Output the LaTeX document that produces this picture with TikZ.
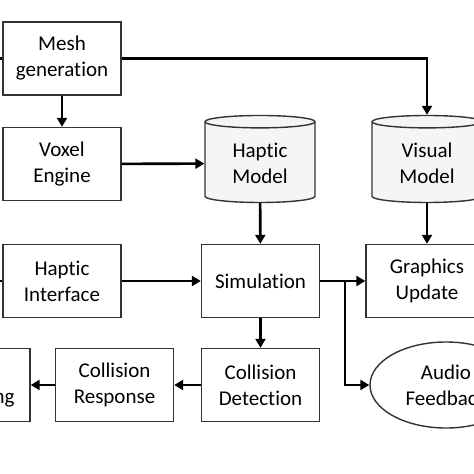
\documentclass[tikz,border=0pt]{standalone}
\usepackage{fontspec}
\setmainfont{Carlito}[Ligatures=NoCommon]
\usepackage{tikz}
\usetikzlibrary{shapes.geometric, arrows.meta}
\tikzstyle{block} = [rectangle, minimum width=118pt, minimum height=73pt, text centered, align=center, draw=black!80, line width=1.4pt]
\tikzstyle{store} = [cylinder, shape border rotate=90, aspect=0.2, minimum width=110pt, minimum height=87pt, text centered, align=center, draw=black!80, line width=1.4pt, fill=gray!8]
\tikzstyle{sound} = [ellipse, minimum width=152pt, minimum height=86pt, text centered, align=center, draw=black!80, line width=1.4pt]
\tikzstyle{flow} = [line width=2.6pt, -{Triangle[length=9pt,width=10pt]}]
\tikzstyle{wire} = [line width=2.6pt]

\begin{document}
\begin{tikzpicture}[x=1pt, y=-1pt, font=\fontsize{21}{26}\selectfont]
\useasboundingbox (0,0) rectangle (474,474);
\clip (0,0) rectangle (474,474);
% boxes
\node (mesh) [block] at (62,58.5) {Mesh\\generation};
\node (voxel) [block] at (62,164) {Voxel\\Engine};
\node (hint) [block] at (62,281) {Haptic\\Interface};
\node (sim) [block] at (260.5,281) {Simulation};
\node (cd) [block] at (260.5,385) {Collision\\Detection};
\node (cr) [block] at (114.5,385) {Collision\\Response};
\node (rend) [block] at (-29,385) {Haptic\\Rendering};
\node (gu) [block, minimum width=122pt] at (427,281) {Graphics\\Update};
% models
\node (hm) [store] at (260,163.5) {Haptic\\Model};
\node (vm) [store] at (427,163.5) {Visual\\Model};
\node (af) [sound] at (446,385) {Audio\\Feedback};
% connectors
\coordinate (west1) at (-20,58.5);
\coordinate (west2) at (-20,281);
\coordinate (fork) at (345,281);
\draw[wire] (mesh.west) -- (west1);
\draw[wire] (hint.west) -- (west2);
\draw[flow] (mesh) -- (voxel);
\draw[flow] (voxel) -- (hm);
\draw[flow] (mesh.east) -| (vm.north);
\draw[flow] (hm) -- (sim);
\draw[flow] (vm) -- (gu);
\draw[flow] (hint) -- (sim);
\draw[flow] (sim) -- (gu);
\draw[flow] (fork) |- (af.west);
\draw[flow] (sim) -- (cd);
\draw[flow] (cd) -- (cr);
\draw[flow] (cr) -- (rend);
\end{tikzpicture}
\end{document}
